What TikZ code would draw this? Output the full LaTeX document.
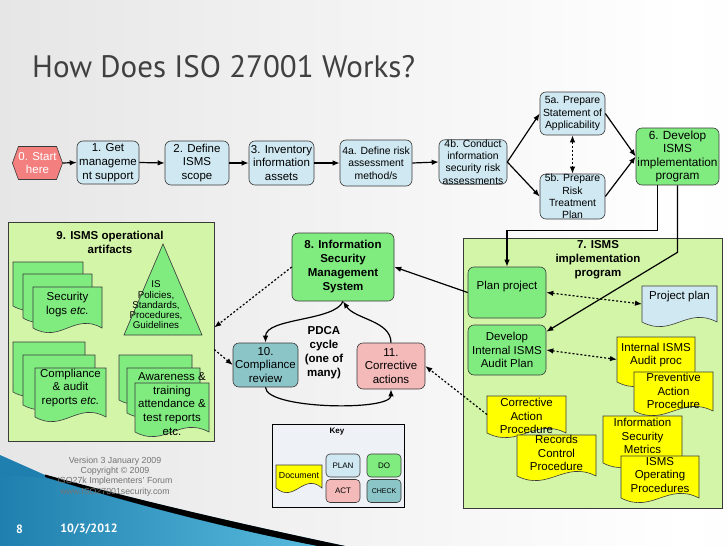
\documentclass[tikz,border=0pt]{standalone}
\usepackage{fontspec}
\setmainfont{Liberation Sans}
\newfontfamily\titlefont{PT Sans}
\usetikzlibrary{calc,arrows.meta,shapes.symbols}
\definecolor{ink}{HTML}{3A3A3A}
\definecolor{planblue}{HTML}{CFE8F1}
\definecolor{dogreen}{HTML}{80EC80}
\definecolor{actpink}{HTML}{F4B9B9}
\definecolor{checkteal}{HTML}{8CC5C8}
\definecolor{startred}{HTML}{F37F7F}
\definecolor{panelgreen}{HTML}{D3F5A8}
\definecolor{docyellow}{HTML}{FFFF00}
\definecolor{keygray}{HTML}{EEF1F6}
\definecolor{titlegray}{HTML}{404040}
\definecolor{swoosh}{HTML}{1F7FAE}
\definecolor{swooshlight}{HTML}{58BBDD}
\pgfdeclarehorizontalshading{slidebg}{100bp}{color(0bp)=(black!15); color(72bp)=(white); color(100bp)=(black!4)}
\newcommand{\docsheet}[8]{\filldraw[fill=#2,draw=ink,line width=.6pt] (#3,#4) -- (#5,#4) -- (#5,#6) .. controls ({#3+.6*(#5-#3)},{#6-16}) and ({#3+.4*(#5-#3)},{#6+16}) .. (#3,#6) -- cycle;\coordinate (#1-w) at (#3,{(#4+#6)/2});\node[doctext] (#1) at ({(#3+#5)/2},#7) {#8};}

\begin{document}
\begin{tikzpicture}[x=1pt,y=-1pt,
  box/.style={draw=ink,line width=.6pt,rounded corners=6pt,align=center,inner sep=0pt,font=\fontsize{11.5}{13.8}\selectfont},
  small/.style={font=\fontsize{10.4}{12.3}\selectfont},
  planbox/.style={box,fill=planblue},dobox/.style={box,fill=dogreen},actbox/.style={box,fill=actpink},checkbox/.style={box,fill=checkteal},
  keybox/.style={rounded corners=4pt,font=\fontsize{8}{9}\selectfont,minimum width=34,minimum height=23},
  flow/.style={-{Latex[length=7pt,width=5.5pt]},line width=1.2pt},
  dotarrow/.style={dash pattern=on 2pt off 2pt,line width=1.2pt,-{Latex[length=7pt,width=5.5pt]}},
  dbl/.style={dotarrow,{Latex[length=7pt,width=5.5pt]}-{Latex[length=7pt,width=5.5pt]}},
  panel/.style={draw=ink,line width=.6pt,fill=panelgreen},
  doctext/.style={align=center,inner sep=0pt,font=\fontsize{11.5}{13.8}\selectfont},
  heading/.style={align=center,font=\bfseries\fontsize{11.5}{14}\selectfont}]
\useasboundingbox (0,0) rectangle (728,546);
\shade[shading=slidebg] (0,0) rectangle (728,546);
\fill[swoosh] (0,455) -- (45,475) .. controls (140,501) and (250,526) .. (345,546) -- (0,546) -- cycle;
\shade[left color=swoosh,right color=swooshlight] (0,475) -- (45,478) .. controls (140,506) and (235,530) .. (318,546) -- (0,546) -- cycle;
\fill[black] (45,474.5) .. controls (140,501) and (250,526) .. (345,546) -- (318,546) .. controls (235,530) and (140,506) .. (45,477) -- cycle;
\node[anchor=base west,font=\titlefont\fontsize{31}{36}\selectfont,text=titlegray,inner sep=0pt] (title) at (32,77) {How Does ISO 27001 Works?};

\node[signal,signal to=west and east,signal pointer angle=140,draw=ink,line width=.6pt,fill=startred,minimum width=49,minimum height=33,inner sep=0pt,text=white,align=center,font=\fontsize{11.5}{13.8}\selectfont] (start) at (37.5,163) {0. Start\\here};
\node[planbox,minimum width=62,minimum height=43] (mgmt) at (108,162.5) {1. Get\\manageme\\nt support};
\node[planbox,minimum width=64,minimum height=44] (scope) at (197,163) {2. Define\\ISMS\\scope};
\node[planbox,minimum width=65,minimum height=44] (assets) at (281.5,163) {3. Inventory\\information\\assets};
\node[planbox,small,minimum width=72,minimum height=46] (method) at (376,163) {4a. Define risk\\assessment\\method/s};
\node[planbox,small,minimum width=68,minimum height=44] (riskassess) at (473,162) {4b. Conduct\\information\\security risk\\assessments};
\node[planbox,small,minimum width=65,minimum height=43] (soa) at (572.5,113.5) {5a. Prepare\\Statement of\\Applicability};
\node[planbox,small,minimum width=65,minimum height=45] (rtp) at (572.5,196.5) {5b. Prepare\\Risk\\Treatment\\Plan};
\node[dobox,font=\fontsize{11.8}{13.4}\selectfont,minimum width=83,minimum height=57] (impl) at (677.5,156.5) {6. Develop\\ISMS\\implementation\\program};
\draw[flow] (start.east) -- (mgmt.west);\draw[flow] (mgmt.east) -- (scope.west);\draw[flow] (scope.east) -- (assets.west);
\draw[flow] (assets.east) -- (method.west);\draw[flow] (method.east) -- (riskassess.west);
\draw[flow] (riskassess.east) -- (soa.west);\draw[flow] (riskassess.east) -- (rtp.west);
\draw[flow] (soa.east) -- (impl.west);\draw[flow] (rtp.east) -- (impl.west);
\draw[dbl] (soa.south) -- (rtp.north);

\node[panel,minimum width=206,minimum height=219] (ops) at (111,331.5) {};
\node[heading] (opstitle) at (110,242.5) {9. ISMS operational\\artifacts};
\docsheet{logsA}{dogreen}{13}{262}{83}{306}{284}{}
\docsheet{logsB}{dogreen}{23}{274}{92}{318}{296}{}
\docsheet{logs}{dogreen}{33}{287}{102}{328}{304.5}{Security\\logs \textit{etc.}}
\filldraw[fill=dogreen,draw=ink,line width=.6pt] (163,244) -- (202,335) -- (124,335) -- cycle;
\node[doctext,font=\fontsize{9.8}{10.2}\selectfont] (policies) at (156,305) {IS\\Policies,\\Standards,\\Procedures,\\Guidelines};
\docsheet{compA}{dogreen}{13}{342}{85}{392}{367}{}
\docsheet{compB}{dogreen}{23}{355}{95}{405}{380}{}
\docsheet{comprep}{dogreen}{35}{368}{106}{417}{388}{Compliance\\\& audit\\reports \textit{etc.}}
\docsheet{awareA}{dogreen}{119}{355}{192}{400}{377}{}
\docsheet{awareB}{dogreen}{127}{368}{200}{413}{390}{}
\docsheet{aware}{dogreen}{135}{383}{209}{432}{404}{Awareness \&\\training\\attendance \&\\test reports\\etc.}

\node[dobox,font=\bfseries\fontsize{11.5}{14}\selectfont,minimum width=102,minimum height=68] (isms) at (343,267) {8. Information\\Security\\Management\\System};
\node[checkbox,minimum width=65,minimum height=44] (review) at (265.5,365) {10.\\Compliance\\review};
\node[actbox,minimum width=68,minimum height=46] (fix) at (391,366) {11.\\Corrective\\actions};
\node[heading] (pdca) at (324,353) {PDCA\\cycle\\(one of\\many)};
\draw[flow] (isms.south) .. controls +(-8,20) and +(0,-25) .. (review.north);
\draw[flow] (review.south) .. controls +(0,22) and +(0,22) .. (fix.south);
\draw[flow] (fix.north) .. controls +(0,-22) and +(12,18) .. (isms.south);
\draw[dotarrow] (isms.west) -- ($(ops.east)+(0,-4)$);
\draw[dotarrow] ($(ops.east)+(0,18)$) -- (review.west);

\node[panel,minimum width=259,minimum height=270] (prog) at (592.5,373) {};
\node[heading] (progtitle) at (598,260) {7. ISMS\\implementation\\program};
\node[dobox,minimum width=78,minimum height=51] (plan) at (507,292.5) {Plan project\\~};
\node[dobox,minimum width=78,minimum height=50] (devaudit) at (507,350) {Develop\\Internal ISMS\\Audit Plan};
\docsheet{projplan}{planblue}{642}{286}{717}{322}{297}{Project plan}
\docsheet{auditproc}{docyellow}{617}{337}{695}{382}{355}{Internal ISMS\\Audit proc}
\docsheet{prevent}{docyellow}{634}{372}{713}{411}{391}{Preventive\\Action\\Procedure}
\docsheet{metrics}{docyellow}{603}{416}{682}{463}{436}{Information\\Security\\Metrics}
\docsheet{isop}{docyellow}{621}{456}{699}{498}{475}{ISMS\\Operating\\Procedures}
\docsheet{corrproc}{docyellow}{487}{396}{566}{433}{416}{Corrective\\Action\\Procedure}
\docsheet{records}{docyellow}{517}{435}{596}{476}{453}{Records\\Control\\Procedure}
\draw[flow] ($(impl.south)+(-20,0)$) -- ++(0,45) -| (plan.north);
\draw[flow] (impl.south) -- ++(0,67) -- ($(devaudit.north east)+(0,7)$);
\draw[flow] (plan.west) -- (isms.east);
\draw[dbl] (plan.east) -- (projplan-w);
\draw[dbl] (devaudit.east) -- (auditproc-w);
\draw[dotarrow] (corrproc-w) -- (fix.east);

\node[draw=black,line width=.8pt,fill=keygray,minimum width=132,minimum height=83] (key) at (338,465.5) {};
\node[font=\bfseries\fontsize{8}{9}\selectfont] (keytitle) at (337,432) {Key};
\docsheet{keydoc}{docyellow}{276}{465}{322}{488}{476}{\fontsize{8.8}{10}\selectfont Document}
\node[planbox,keybox] (kplan) at (343,465.5) {PLAN};
\node[actbox,keybox] (kact) at (343,491) {ACT};
\node[dobox,keybox] (kdo) at (384,465.5) {DO};
\node[checkbox,keybox,font=\fontsize{7}{8}\selectfont] (kcheck) at (384,491) {CHECK};

\node[font=\fontsize{8.8}{10.3}\selectfont,text=black!55,align=center,inner sep=0pt] (credits) at (115,476.5) {Version 3 January 2009\\Copyright © 2009\\ISO27k Implementers' Forum\\www.ISO27001security.com};
\node[font=\titlefont\bfseries\fontsize{12}{14}\selectfont,text=white] (pageno) at (19.5,529) {8};
\node[font=\titlefont\bfseries\fontsize{12}{14}\selectfont,text=white] (date) at (89,529) {10/3/2012};
\end{tikzpicture}
\end{document}
